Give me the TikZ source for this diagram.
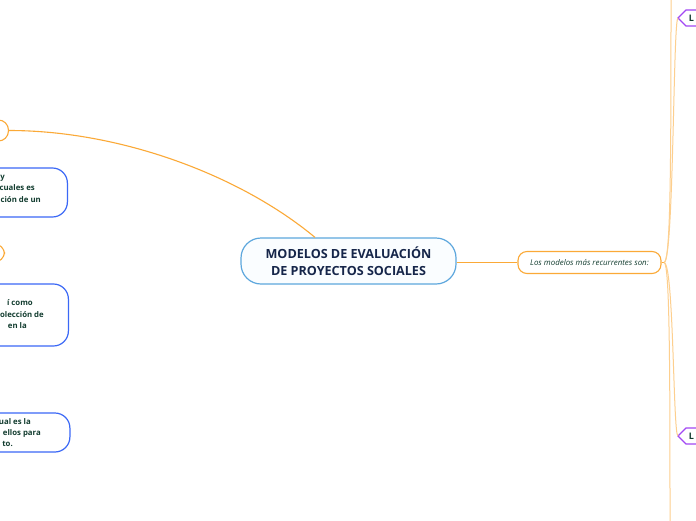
\documentclass[tikz,border=0pt]{standalone}
\usepackage{fontspec}
\setmainfont{Open Sans}
\usetikzlibrary{calc}
\definecolor{orng}{HTML}{FBA937}
\definecolor{orngl}{HTML}{FDCF8E}
\definecolor{bluebox}{HTML}{3B68F6}
\definecolor{centerb}{HTML}{5DA7DD}
\definecolor{centerf}{HTML}{FAFDFF}
\definecolor{purp}{HTML}{A247F4}
\definecolor{txtg}{HTML}{133D30}
\definecolor{navy}{HTML}{16264A}
\tikzset{
  centralbox/.style={draw=centerb, fill=centerf, line width=1.2pt, rounded corners=20pt,
    minimum width=215pt, minimum height=46pt, align=center, text=navy,
    font=\fontsize{12.6}{17}\selectfont\bfseries, inner sep=0pt},
  orngbox/.style={draw=orng, line width=1.1pt, rounded corners=10pt, inner sep=0pt},
  topicbox/.style={draw=orng, line width=1.1pt, rounded corners=9pt, inner sep=0pt,
    minimum width=143pt, minimum height=22pt, text=txtg,
    font=\fontsize{7.9}{9}\selectfont\itshape},
  bluebx/.style={draw=bluebox, line width=1.2pt, rounded corners=15pt, inner sep=0pt,
    minimum width=160pt},
  frag/.style={anchor=base east, inner sep=0pt, text=txtg,
    font=\fontsize{7.8}{9}\selectfont\bfseries},
  letter/.style={inner sep=0pt, text=txtg, font=\fontsize{9}{10}\selectfont\bfseries},
  orngline/.style={draw=orng, line width=1.1pt},
  branchline/.style={draw=orngl, line width=1pt},
  purpline/.style={draw=purp, line width=1.2pt},
}
\begin{document}
\begin{tikzpicture}[x=1pt,y=-1pt]
\clip (0,0) rectangle (696,520);
\fill[white] (0,0) rectangle (696,520);

% central node
\node[centralbox] (c) at (348.5,261) {MODELOS DE EVALUACIÓN\\DE PROYECTOS SOCIALES};

% topic node
\node[topicbox] (m) at (589.5,262.5) {Los modelos más recurrentes son:};
\draw[orngline] (c.east |- m.west) -- (m.west);

% small orange nodes on the left (cut off)
\node[orngbox, minimum width=60pt, minimum height=21pt, anchor=east] (o1) at (9,130.5) {};
\node[orngbox, minimum width=60pt, minimum height=18pt, anchor=east] (o2) at (5,253) {};

% connector central -> o1
\draw[orngline] ([xshift=-33.5pt]c.north) .. controls (240,175) and (120,130.5) .. (o1.east);

% blue boxes on the left (cut off)
\node[bluebx, minimum height=49pt, anchor=east] (b1) at (68,192.5) {};
\node[frag] (b1a) at (5,179.5) {y};
\node[frag] (b1b) at (35,190.5) {cuales es};
\node[frag] (b1c) at (41,202) {ción de un};

\node[bluebx, minimum height=62pt, anchor=east] (b2) at (69,315) {};
\node[frag] (b2a) at (33,305.5) {í como};
\node[frag] (b2b) at (44,317) {olección de};
\node[frag] (b2c) at (27,328.5) {en la};

\node[bluebx, minimum height=39pt, anchor=east] (b3) at (70.5,432.5) {};
\node[frag] (b3a) at (31,424.5) {ual es la};
\node[frag] (b3b) at (41,435.5) {ellos para};
\node[frag] (b3c) at (13,446.5) {to.};

% fork on the right
\coordinate (f) at (664,262.5);
\draw[orngline] (m.east) -- (f);

% purple nodes on the right (cut off)
\coordinate (p1) at (678,18);
\coordinate (p2) at (678,436);
\draw[purpline, fill=white] (720,10) -- (686,10) -- (p1) -- (686,26) -- (720,26);
\draw[purpline, fill=white] (720,428) -- (686,428) -- (p2) -- (686,444) -- (720,444);
\node[letter] (p1l) at (691.5,18) {L};
\node[letter] (p2l) at (691.5,436) {L};

% free ends beyond the canvas
\coordinate (top) at (671,-20);
\coordinate (bot) at (670,540);

\draw[branchline] (f) .. controls (671,262.5) and (671,150) .. (top);
\draw[branchline] (f) .. controls (674,262.5) and (673,18) .. (p1);
\draw[branchline] (f) .. controls (670,262.5) and (670,380) .. (bot);
\draw[branchline] (f) .. controls (674,262.5) and (673,436) .. (p2);
\end{tikzpicture}
\end{document}
